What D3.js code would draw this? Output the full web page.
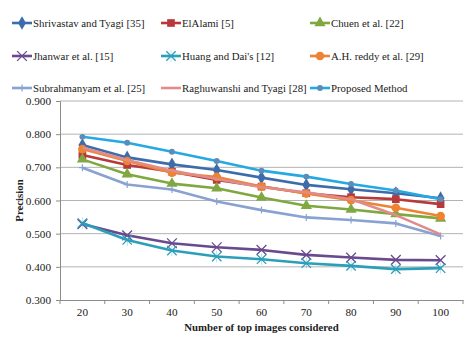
<!DOCTYPE html>
<html>
<head>
<meta charset="utf-8">
<script src="https://cdn.jsdelivr.net/npm/d3@7"></script>
<style>
  body { margin: 0; background: #fff; }
  svg text { font-family: "Liberation Serif", "DejaVu Serif", serif !important; fill: #222; }
</style>
</head>
<body>
<div id="chart"></div>
<script>
// top-N retrieval counts on the x axis
var topN = [20, 30, 40, 50, 60, 70, 80, 90, 100];
var yTicks = [0.3, 0.4, 0.5, 0.6, 0.7, 0.8, 0.9];

var shrivastav = [0.767, 0.730, 0.709, 0.692, 0.669, 0.647, 0.634, 0.622, 0.607];
var elAlami = [0.737, 0.707, 0.687, 0.662, 0.642, 0.622, 0.610, 0.604, 0.589];
var chuen = [0.724, 0.679, 0.651, 0.637, 0.609, 0.584, 0.573, 0.559, 0.546];
var jhanwar = [0.529, 0.495, 0.471, 0.459, 0.451, 0.436, 0.428, 0.421, 0.420];
var huang = [0.532, 0.481, 0.449, 0.431, 0.423, 0.411, 0.403, 0.393, 0.396];
var reddy = [0.755, 0.719, 0.684, 0.671, 0.642, 0.621, 0.601, 0.578, 0.553];
var subrahmanyam = [0.699, 0.648, 0.633, 0.597, 0.571, 0.549, 0.541, 0.531, 0.493];
var raghuwanshi = [0.760, 0.722, 0.690, 0.665, 0.640, 0.625, 0.604, 0.556, 0.498];
var proposed = [0.792, 0.774, 0.747, 0.719, 0.690, 0.672, 0.650, 0.630, 0.604];

var series = [
    { name: "Shrivastav and Tyagi [35]", values: shrivastav, color: "#3d6cab", marker: "diamond" },
    { name: "ElAlami [5]", values: elAlami, color: "#b8393b", marker: "square" },
    { name: "Chuen et al. [22]", values: chuen, color: "#7fa840", marker: "triangle" },
    { name: "Jhanwar et al. [15]", values: jhanwar, color: "#6a4a8f", marker: "x" },
    { name: "Huang and Dai's [12]", values: huang, color: "#2b9fb9", marker: "star" },
    { name: "A.H. reddy et al. [29]", values: reddy, color: "#ee8333", marker: "circle" },
    { name: "Subrahmanyam et al. [25]", values: subrahmanyam, color: "#8aa2d2", marker: "plus" },
    { name: "Raghuwanshi and Tyagi [28]", values: raghuwanshi, color: "#e08c8a", marker: "none" },
    { name: "Proposed Method", values: proposed, color: "#25a9e2", marker: "dot", markerColor: "#5b8db6" }
];

var W = 474, H = 346;
var margin = { top: 101, right: 11, bottom: 46, left: 60 };
var width = W - margin.left - margin.right;
var height = H - margin.top - margin.bottom;
var labelSize = "10.8px";
var tickSize = "11.2px";

var svg = d3.select("#chart").append("svg")
    .attr("width", W)
    .attr("height", H);

var g = svg.append("g")
    .attr("transform", "translate(" + margin.left + "," + margin.top + ")");

var x = d3.scaleBand().domain(topN).range([0, width]).padding(0);
var y = d3.scaleLinear().domain([0.3, 0.9]).range([height, 0]);

// gridlines
g.selectAll(".grid")
    .data(yTicks.slice(1))
    .enter().append("line")
    .attr("x1", 0).attr("x2", width)
    .attr("y1", function (d) { return y(d); })
    .attr("y2", function (d) { return y(d); })
    .attr("stroke", "#b3b3b3")
    .attr("stroke-width", 1);

// y axis
var yAxis = g.append("g")
    .call(d3.axisLeft(y).tickValues(yTicks).tickFormat(d3.format(".3f")).tickSize(4).tickPadding(5));
yAxis.select(".domain").attr("stroke", "#8c8c8c");
yAxis.selectAll(".tick line").attr("stroke", "#8c8c8c");
yAxis.selectAll("text").style("font-size", tickSize);

// x axis, ticks sit between categories
var xAxis = g.append("g")
    .attr("transform", "translate(0," + height + ")")
    .call(d3.axisBottom(x).tickSize(0).tickPadding(8));
xAxis.select(".domain").attr("stroke", "#8c8c8c");
xAxis.selectAll("text").style("font-size", tickSize);
xAxis.selectAll(".sep")
    .data(d3.range(topN.length + 1))
    .enter().append("line")
    .attr("x1", function (i) { return i * x.step(); })
    .attr("x2", function (i) { return i * x.step(); })
    .attr("y1", 0).attr("y2", 4)
    .attr("stroke", "#8c8c8c");

// axis titles
svg.append("text")
    .attr("x", margin.left + width / 2)
    .attr("y", 331)
    .attr("text-anchor", "middle")
    .style("font-size", labelSize)
    .style("font-weight", "bold")
    .text("Number of top images considered");

svg.append("text")
    .attr("transform", "translate(23," + (margin.top + height / 2) + ") rotate(-90)")
    .attr("text-anchor", "middle")
    .style("font-size", labelSize)
    .style("font-weight", "bold")
    .text("Precision");

function drawMarker(sel, type, color, size) {
    var s = size;
    if (type === "diamond") {
        sel.append("path").attr("d", d3.symbol().type(d3.symbolDiamond).size(s * s * 1.1)).attr("fill", color);
    } else if (type === "square") {
        sel.append("path").attr("d", d3.symbol().type(d3.symbolSquare).size(s * s * 1.2)).attr("fill", color);
    } else if (type === "triangle") {
        sel.append("path").attr("d", d3.symbol().type(d3.symbolTriangle).size(s * s * 1.1)).attr("fill", color);
    } else if (type === "circle") {
        sel.append("circle").attr("r", s * 0.62).attr("fill", color);
    } else if (type === "dot") {
        sel.append("circle").attr("r", s * 0.42).attr("fill", color);
    } else if (type === "x") {
        sel.append("path").attr("d", d3.symbol().type(d3.symbolX).size(s * s * 1.3))
            .attr("fill", "none").attr("stroke", color).attr("stroke-width", 1.3);
    } else if (type === "star") {
        sel.append("path").attr("d", d3.symbol().type(d3.symbolX).size(s * s * 1.2))
            .attr("fill", "none").attr("stroke", color).attr("stroke-width", 1.3);
        sel.append("path").attr("d", d3.symbol().type(d3.symbolPlus).size(s * s * 0.9))
            .attr("fill", "none").attr("stroke", color).attr("stroke-width", 1.1)
            .attr("transform", "scale(0.25,1)");
    } else if (type === "plus") {
        sel.append("path").attr("d", "M" + (-s / 2) + ",0H" + (s / 2) + "M0," + (-s / 2) + "V" + (s / 2))
            .attr("fill", "none").attr("stroke", color).attr("stroke-width", 1.2);
    }
}

var line = d3.line()
    .x(function (d, i) { return x(topN[i]) + x.bandwidth() / 2; })
    .y(function (d) { return y(d); });

series.forEach(function (s) {
    var sg = g.append("g");
    sg.append("path")
        .datum(s.values)
        .attr("d", line)
        .attr("fill", "none")
        .attr("stroke", s.color)
        .attr("stroke-width", 2.6)
        .attr("stroke-linejoin", "round");
    sg.selectAll(".pt")
        .data(s.values)
        .enter().append("g")
        .attr("transform", function (d, i) {
            return "translate(" + (x(topN[i]) + x.bandwidth() / 2) + "," + y(d) + ")";
        })
        .each(function () { drawMarker(d3.select(this), s.marker, s.markerColor || s.color, 7); });
});

// legend, three columns
var legendCols = [12, 161, 310];
var legendRows = [23, 56, 88];
var legend = svg.selectAll(".legend")
    .data(series)
    .enter().append("g")
    .attr("transform", function (d, i) {
        return "translate(" + legendCols[i % 3] + "," + legendRows[Math.floor(i / 3)] + ")";
    });
legend.append("line")
    .attr("x1", 0).attr("x2", 20)
    .attr("stroke", function (d) { return d.color; })
    .attr("stroke-width", 2.6);
legend.append("g")
    .attr("transform", "translate(10,0)")
    .each(function (d) { drawMarker(d3.select(this), d.marker, d.markerColor || d.color, 7); });
legend.append("text")
    .attr("x", 21)
    .attr("dy", "0.35em")
    .style("font-size", labelSize)
    .text(function (d) { return d.name; });
</script>
</body>
</html>
